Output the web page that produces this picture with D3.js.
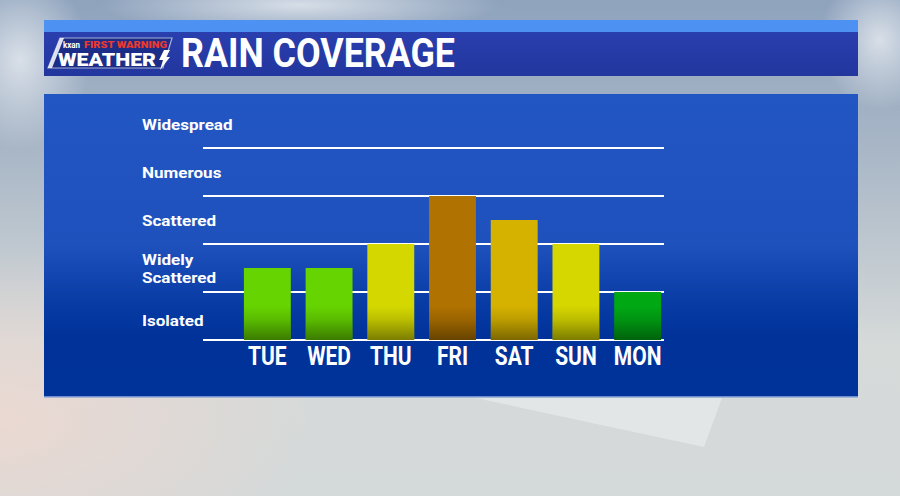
<!DOCTYPE html>
<html><head><meta charset="utf-8">
<script src="https://cdn.jsdelivr.net/npm/d3@7"></script>
<style>html,body{margin:0;padding:0;overflow:hidden;background:#ccd3d8}</style>
</head><body><svg id="c" width="900" height="496"></svg>
<script>
const days = ["TUE","WED","THU","FRI","SAT","SUN","MON"];
const coverage = [1.5, 1.5, 2.0, 3.0, 2.5, 2.0, 1.0];
const barColors = ["#66d400","#66d400","#d4d800","#b07200","#d6b200","#d6d600","#00a814"];
const levelLabels = [["Isolated"],["Widely","Scattered"],["Scattered"],["Numerous"],["Widespread"]];
const levelTicks = [0,1,2,3,4];
const title = "RAIN COVERAGE";

const svg = d3.select("#c");
const defs = svg.append("defs");
const FONT = "'Roboto','Liberation Sans',sans-serif";

// background
const bg = defs.append("linearGradient").attr("id","bg").attr("x1",0).attr("y1",0).attr("x2",0).attr("y2",1);
bg.append("stop").attr("offset",0).attr("stop-color","#8fa3bd");
bg.append("stop").attr("offset",0.3).attr("stop-color","#a8b6c6");
bg.append("stop").attr("offset",0.7).attr("stop-color","#d6dad9");
bg.append("stop").attr("offset",1).attr("stop-color","#d4d9d9");
svg.append("rect").attr("width",900).attr("height",496).attr("fill","url(#bg)");
const pink = defs.append("radialGradient").attr("id","pink").attr("cx",0).attr("cy",0.85).attr("r",0.35);
pink.append("stop").attr("offset",0).attr("stop-color","#f0d8d0").attr("stop-opacity",0.8);
pink.append("stop").attr("offset",1).attr("stop-color","#f0d8d0").attr("stop-opacity",0);
svg.append("rect").attr("width",900).attr("height",496).attr("fill","url(#pink)");
const cloud = defs.append("radialGradient").attr("id","cloud").attr("cx",0.5).attr("cy",0.5).attr("r",0.5);
cloud.append("stop").attr("offset",0).attr("stop-color","#eef1f5").attr("stop-opacity",0.75);
cloud.append("stop").attr("offset",1).attr("stop-color","#eef1f5").attr("stop-opacity",0);
svg.append("ellipse").attr("cx",20).attr("cy",60).attr("rx",70).attr("ry",90).attr("fill","url(#cloud)");
svg.append("ellipse").attr("cx",300).attr("cy",5).attr("rx",200).attr("ry",30).attr("fill","url(#cloud)");
svg.append("ellipse").attr("cx",880).attr("cy",40).attr("rx",60).attr("ry",70).attr("fill","url(#cloud)");
svg.append("polygon").attr("points","476,398 722,398 704,447").attr("fill","#e6e9ea").attr("opacity",0.8);

// header
svg.append("rect").attr("x",44).attr("y",20).attr("width",814).attr("height",12).attr("fill","#4d92f2");
const hg = defs.append("linearGradient").attr("id","hg").attr("x1",0).attr("y1",0).attr("x2",0).attr("y2",1);
hg.append("stop").attr("offset",0).attr("stop-color","#2a3fae");
hg.append("stop").attr("offset",1).attr("stop-color","#22369e");
svg.append("rect").attr("x",44).attr("y",32).attr("width",814).attr("height",44).attr("fill","url(#hg)");
svg.append("text").attr("x",181).attr("y",67).attr("fill","#fff").attr("font-family",FONT)
  .attr("font-weight",700).attr("font-size",41).attr("textLength",274).attr("lengthAdjust","spacingAndGlyphs").text(title);

// logo
const logo = svg.append("g");
logo.append("polygon").attr("points","60,38 172,38 163,68 48,68").attr("fill","#1b2d86").attr("stroke","#ffffff").attr("stroke-width",1.2).attr("stroke-opacity",0.6);
logo.append("polygon").attr("points","60,38 64,38 52,68 48,68").attr("fill","#ffffff").attr("opacity",0.85);
logo.append("text").attr("x",63).attr("y",48).attr("fill","#fff").attr("font-family",FONT).attr("font-weight",700)
  .attr("font-size",8.5).attr("textLength",17).attr("lengthAdjust","spacingAndGlyphs").text("kxan");
logo.append("text").attr("x",84).attr("y",48).attr("fill","#ee3a2c").attr("font-family",FONT).attr("font-weight",900)
  .attr("font-size",9.5).attr("textLength",83).attr("lengthAdjust","spacingAndGlyphs").text("FIRST WARNING");
logo.append("text").attr("x",58).attr("y",66).attr("fill","#fff").attr("font-family",FONT).attr("font-weight",900)
  .attr("font-size",18).attr("textLength",98).attr("lengthAdjust","spacingAndGlyphs").text("WEATHER");
logo.append("polygon").attr("points","164,50 170,50 166,57 170,57 160,70 163,60 159,60").attr("fill","#fff");

// panel
const pg = defs.append("linearGradient").attr("id","pg").attr("x1",0).attr("y1",0).attr("x2",0).attr("y2",1);
pg.append("stop").attr("offset",0).attr("stop-color","#2256c2");
pg.append("stop").attr("offset",0.5).attr("stop-color","#1f51bd");
pg.append("stop").attr("offset",0.68).attr("stop-color","#0a3ca6");
pg.append("stop").attr("offset",0.8).attr("stop-color","#00329a");
pg.append("stop").attr("offset",1).attr("stop-color","#003399");
svg.append("rect").attr("x",44).attr("y",94).attr("width",814).attr("height",303).attr("fill","url(#pg)");
svg.append("rect").attr("x",44).attr("y",396).attr("width",814).attr("height",1.5).attr("fill","#6f8fd0");

// scales
const y = d3.scaleLinear().domain([0,4]).range([340,148]);
const x = d3.scaleBand().domain(days).range([236.5,668.5]).paddingInner(0.24).paddingOuter(0.12);

// gridlines
svg.append("g").selectAll("line").data(levelTicks).join("line")
  .attr("x1",203).attr("x2",664).attr("y1",d=>y(d)).attr("y2",d=>y(d))
  .attr("stroke","#ffffff").attr("stroke-width",2.2);

// level labels
const lab = svg.append("g").attr("font-family",FONT).attr("font-weight",700).attr("font-size",15.5).attr("fill","#fff");
levelLabels.forEach((lines,i)=>{
  const cy = (y(i)+y(i+1))/2;
  lines.forEach((s,j)=>{
    const n = lines.length;
    const ty = cy + 6 + (j-(n-1)/2)*18 + (i===0?4:0);
    lab.append("text").attr("transform",`translate(142,${ty}) scale(1.1,1)`).text(s);
  });
});

// bars
const shade = defs.append("linearGradient").attr("id","shade").attr("x1",0).attr("y1",0).attr("x2",0).attr("y2",1);
shade.append("stop").attr("offset",0).attr("stop-color","#000").attr("stop-opacity",0);
shade.append("stop").attr("offset",0.4).attr("stop-color","#000").attr("stop-opacity",0.12);
shade.append("stop").attr("offset",1).attr("stop-color","#000").attr("stop-opacity",0.42);
const bars = svg.append("g");
days.forEach((d,i)=>{
  bars.append("rect").attr("x",x(d)).attr("width",x.bandwidth()).attr("y",y(coverage[i])).attr("height",y(0)-y(coverage[i]))
    .attr("fill",barColors[i]);
  const sh = Math.min(34, y(0)-y(coverage[i]));
  bars.append("rect").attr("x",x(d)).attr("width",x.bandwidth()).attr("y",y(0)-sh).attr("height",sh)
    .attr("fill","url(#shade)");
});

// day labels
svg.append("g").selectAll("text").data(days).join("text")
  .attr("transform",d=>`translate(${x(d)+x.bandwidth()/2},365) scale(0.84,1)`).attr("text-anchor","middle")
  .attr("font-family",FONT).attr("font-weight",700).attr("font-size",25).attr("fill","#fff").text(d=>d);
</script></body></html>
